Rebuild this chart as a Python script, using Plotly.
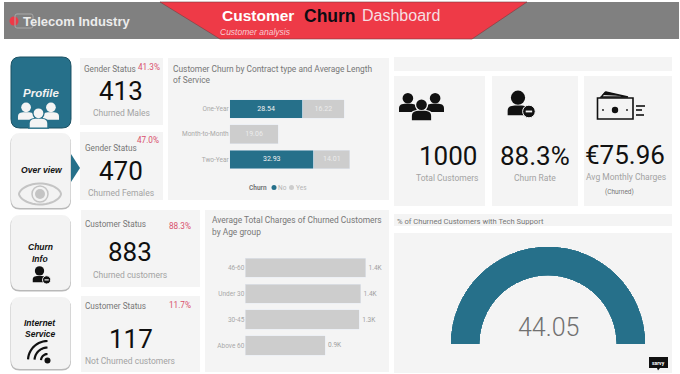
import numpy as np
import plotly.graph_objects as go

W, H = 680, 374

# ---- data ----
contract_types = ["One-Year", "Month-to-Month", "Two-Year"]
tenure_no = [28.54, None, 32.93]
tenure_yes = [16.22, 19.06, 14.01]

age_groups = ["46-60", "Under 30", "30-45", "Above 60"]
avg_charges_k = [1.415, 1.356, 1.341, 0.938]

gauge_value = 44.05

gender_cards = [("Gender Status", "41.3%", "413", "Churned Males"),
                ("Gender Status", "47.0%", "470", "Churned Females")]
status_cards = [("Customer Status", "88.3%", "883", "Churned customers"),
                ("Customer Status", "11.7%", "117", "Not Churned customers")]
headline_values = ["1000", "88.3%", "€75.96"]
headline_labels = ["Total Customers", "Churn Rate", "Avg Monthly Charges"]

# ---- colours ----
TEAL = "#26708a"
PANEL = "#f4f4f4"
BAR_GREY = "#cdcdcd"
RED = "#ee3a47"
SUB = "#a3a3a3"
PINK = "#d9506c"
BIG = "Roboto"

# ---- pixel helpers ----
px = lambda x: x / W
py = lambda y: 1 - y / H
shapes, notes = [], []


def rect(x0, y0, x1, y1, fill):
    shapes.append(dict(type="rect", xref="paper", yref="paper", x0=px(x0), x1=px(x1),
                       y0=py(y0), y1=py(y1), fillcolor=fill, line_width=0, layer="below"))


def path(d, fill=None, line=None, lw=0, layer="below"):
    s = dict(type="path", xref="paper", yref="paper", path=d, layer=layer,
             fillcolor=fill if fill else "rgba(0,0,0,0)",
             line=dict(color=line if line else "rgba(0,0,0,0)", width=lw))
    shapes.append(s)


def pts(points, close=True):
    d = "M " + " L ".join(f"{px(x):.5f} {py(y):.5f}" for x, y in points)
    return d + (" Z" if close else "")


def rrect(x0, y0, x1, y1, r, fill, line=None, lw=0):
    def P(x, y):
        return f"{px(x):.5f} {py(y):.5f}"
    d = (f"M {P(x0+r,y0)} L {P(x1-r,y0)} Q {P(x1,y0)} {P(x1,y0+r)} L {P(x1,y1-r)} "
         f"Q {P(x1,y1)} {P(x1-r,y1)} L {P(x0+r,y1)} Q {P(x0,y1)} {P(x0,y1-r)} "
         f"L {P(x0,y0+r)} Q {P(x0,y0)} {P(x0+r,y0)} Z")
    path(d, fill, line, lw)


def circle(cx, cy, r, fill, line=None, lw=0):
    shapes.append(dict(type="circle", xref="paper", yref="paper",
                       x0=px(cx - r), x1=px(cx + r), y0=py(cy - r), y1=py(cy + r),
                       fillcolor=fill, line=dict(color=line or "rgba(0,0,0,0)", width=lw),
                       layer="below"))


def body(cx, top, w, h, fill):
    def P(x, y):
        return f"{px(x):.5f} {py(y):.5f}"
    l, r, b = cx - w / 2, cx + w / 2, top + h
    d = (f"M {P(l,b)} L {P(l,top+h*0.55)} C {P(l,top)} {P(cx-w*0.25,top)} {P(cx,top)} "
         f"C {P(cx+w*0.25,top)} {P(r,top)} {P(r,top+h*0.55)} L {P(r,b)} Z")
    path(d, fill)


def people(cx, cy, s, fill, back=None):
    for dx in (-s * 0.92, s * 0.92):
        circle(cx + dx, cy - s * 0.42, s * 0.36, fill)
        body(cx + dx, cy - s * 0.05, s * 1.2, s * 0.55, fill)
    if back:
        circle(cx, cy + s * 0.02, s * 0.45, back)
        body(cx, cy + s * 0.37, s * 1.55, s * 0.8, back)
    circle(cx, cy + s * 0.02, s * 0.36, fill)
    body(cx, cy + s * 0.42, s * 1.3, s * 0.65, fill)


def person_minus(cx, cy, s, fill, hole):
    circle(cx, cy - s * 0.55, s * 0.62, fill)
    body(cx, cy + s * 0.12, s * 1.8, s * 0.85, fill)
    bx, by = cx + s * 0.95, cy + s * 0.65
    circle(bx, by, s * 0.55, fill, hole, 1)
    rect(bx - s * 0.28, by - s * 0.08, bx + s * 0.28, by + s * 0.08, hole)


def T(x, y, text, size, color, anchor="center", family="Roboto", weight=None, italic=False):
    f = dict(size=size, color=color, family=family)
    if weight:
        f["weight"] = weight
    if italic:
        f["style"] = "italic"
    notes.append(dict(xref="paper", yref="paper", x=px(x), y=py(y), text=text, showarrow=False,
                      xanchor=anchor, yanchor="middle", font=f, borderpad=0, borderwidth=0))


# ---- header ----
rect(4, 2, 679, 39, "#808080")
path(pts([(160, 2), (527, 2), (472, 39), (220, 39)]), RED, "#7a3a40", 0.6)
circle(14, 21, 4.5, RED)
rrect(15, 14, 33, 28, 2, "rgba(0,0,0,0)", "#a9a9a9", 1)
T(23, 21, "Telecom Industry", 13, "#ececec", "left", "Liberation Sans", 700)
T(222, 16, "Customer", 15.5, "#ffffff", "left", "Liberation Sans", 700)
T(304, 15.5, "Churn", 17.5, "#0c0c12", "left", "Liberation Sans", 700)
T(362, 16, "Dashboard", 16, "#f6dfe2", "left", "Liberation Sans")
T(220, 32, "Customer analysis", 8.5, "#f8ccd2", "left", "Liberation Sans", italic=True)

# ---- nav buttons ----
rrect(11, 57, 71, 128, 9, TEAL, "#1b5163", 1)
T(41, 92.5, "Profile", 11.5, "#f2f2f2", family="Liberation Sans", weight=700, italic=True)
people(38.5, 113, 13.5, "#f4f4f4", TEAL)

for y0, y1 in [(133, 208), (215, 290), (297, 369)]:
    rrect(10.5, y0 + 1.5, 71, y1 + 1.5, 9, "#b9b9b9")
    rrect(11, y0, 70.5, y1, 9, "#f3f3f3")

T(41.5, 170.5, "Over view", 8.6, "#111111", family="Liberation Sans", weight=700, italic=True)
th = np.linspace(0, 2 * np.pi, 40)
path(pts([(40 + 21 * np.cos(t), 194 + 10.5 * np.sin(t) * abs(np.sin(t)) ** 0.2) for t in th]),
     None, "#c4c4c4", 2)
circle(40, 194, 8, "rgba(0,0,0,0)", "#c4c4c4", 1.5)
circle(40, 194, 5, "#c4c4c4")
path(pts([(71, 154), (80, 168), (71, 182)]), TEAL)

T(40, 246.5, "Churn", 8.5, "#111111", family="Liberation Sans", weight=700, italic=True)
T(40, 258.5, "Info", 8.5, "#111111", family="Liberation Sans", weight=700, italic=True)
person_minus(39.5, 275, 7.5, "#111111", "#f3f3f3")

T(40, 322.5, "Internet", 8.5, "#111111", family="Liberation Sans", weight=700, italic=True)
T(40, 334, "Service", 8.5, "#111111", family="Liberation Sans", weight=700, italic=True)
for r, w in [(6.5, 2.2), (13, 2.2), (19.5, 2.2)]:
    arc = [(47.5 + r * np.cos(a), 360.5 + r * np.sin(a)) for a in np.linspace(np.pi * 1.02, np.pi * 1.5, 14)]
    path(pts(arc, close=False), None, "#111111", w)
circle(47.5, 360.5, 3, "#111111")

# ---- KPI cards ----
rect(80, 58, 163, 125, PANEL)
rect(80, 132, 163, 200, PANEL)
rect(81, 210, 200, 287, PANEL)
rect(81, 296, 200, 372, PANEL)
(g1, g2), (s1, s2) = gender_cards, status_cards
for (head, pct, num, lab), (hx, hy, px_, py_, nx, ny, lx, ly) in [
    (g1, (84, 69, 160, 67, 121, 91, 121, 112.5)),
    (g2, (85, 148, 159, 140, 121, 171, 121, 193.5)),
    (s1, (84.5, 224.5, 190.5, 226, 130, 252, 130, 275)),
    (s2, (85, 306, 190.5, 305, 131, 339, 130, 361)),
]:
    T(hx, hy, head, 8.2, "#777777", "left")
    T(px_, py_, pct, 8.2, PINK, "right")
    T(nx, ny, num, 26, "#0f0f0f", family=BIG)
    T(lx, ly, lab, 8.5, SUB)

# ---- chart panels ----
rect(168, 58, 389, 200, PANEL)
T(173, 69, "Customer Churn by Contract type and Average Length", 8.4, "#777777", "left")
T(173, 80.5, "of Service", 8.4, "#777777", "left")
T(249, 188, "<b>Churn</b>", 6.5, "#777777", "left")
circle(274, 187.5, 2.5, TEAL)
T(278, 188, "No", 6.5, "#b5b5b5", "left")
circle(291.5, 187.5, 2.5, BAR_GREY)
T(295.5, 188, "Yes", 6.5, "#b5b5b5", "left")

rect(205, 210, 389, 372, PANEL)
T(212, 220, "Average Total Charges of Churned Customers", 8.4, "#777777", "left")
T(212, 231.5, "by Age group", 8.4, "#777777", "left")

# ---- right column ----
rect(394, 57, 672, 71, PANEL)
rect(394, 76, 485, 206, PANEL)
rect(492, 76, 578, 206, PANEL)
rect(584, 76, 672, 206, PANEL)
rect(394, 214, 672, 226, PANEL)
rect(394, 233, 672, 373, PANEL)

people(421.5, 104.5, 14.8, "#111111", PANEL)
person_minus(518, 104, 11.5, "#111111", PANEL)
# money icon
path(pts([(597.5, 98), (633, 98), (633, 119), (597.5, 119)]), None, "#111111", 1.6)
path(pts([(601, 97), (606, 92), (628, 97)]), None, "#111111", 1.4)
path(pts([(602, 95), (605, 91.5), (623, 96)]), "#111111")
circle(615, 110, 3.2, "#111111")
circle(603, 110, 0.9, "#111111")
circle(627, 110, 0.9, "#111111")
for yy, x1 in [(106, 645), (110, 642), (115, 644)]:
    rect(636, yy - 0.8, x1, yy + 0.8, "#111111")

for x, y, v, lab, lx, ly in zip([448, 535, 625], [156, 156, 155], headline_values, headline_labels,
                                [447, 535, 626], [178, 178, 176.5]):
    T(x, y, v, 26, "#111111", family=BIG)
    T(lx, ly, lab, 8.5, SUB)
T(619, 192, "(Churned)", 6.5, "#777777")
T(397, 221, "% of Churned Customers with Tech Support", 7.6, "#777777", "left")
T(548, 327, f"{gauge_value:.2f}", 25, "#707070", family=BIG, weight=300)

# badge
rect(649, 357, 668, 368, "#111111")
path(pts([(657, 368), (660, 368), (658, 370.5)]), "#111111")
T(658.5, 362.5, "sarvy", 5, "#ffffff", weight=700)

# ---- traces ----
fig = go.Figure()
fig.add_trace(go.Bar(name="No", y=contract_types, x=tenure_no, orientation="h", marker_color=TEAL,
                     text=[None if v is None else f"{v:.2f}" for v in tenure_no],
                     textposition="inside", insidetextanchor="middle", textangle=0,
                     textfont=dict(size=7, color="#f2f2f2", family="Roboto"),
                     xaxis="x", yaxis="y"))
fig.add_trace(go.Bar(name="Yes", y=contract_types, x=tenure_yes, orientation="h", marker_color=BAR_GREY,
                     text=[f"{v:.2f}" for v in tenure_yes],
                     textposition="inside", insidetextanchor="middle", textangle=0,
                     textfont=dict(size=7, color="#ececec", family="Roboto"),
                     xaxis="x", yaxis="y"))
fig.add_trace(go.Bar(y=age_groups, x=avg_charges_k, orientation="h", marker_color=BAR_GREY,
                     texttemplate="%{x:.1f}K", textposition="outside", cliponaxis=False,
                     textfont=dict(size=6.5, color="#a0a0a0", family="Roboto"),
                     xaxis="x2", yaxis="y2", showlegend=False))
fig.add_trace(go.Barpolar(r=[gauge_value], theta=[90], width=[180], marker_color=TEAL,
                          marker_line_width=0, subplot="polar", showlegend=False))

hidden = dict(visible=False, showgrid=False, zeroline=False, fixedrange=True)
cat = dict(showgrid=False, zeroline=False, showline=False, ticks="", autorange=False,
           tickfont=dict(size=6.5, color="#a8a8a8", family="Roboto"), fixedrange=True, ticklen=0)

fig.update_layout(
    width=W, height=H, autosize=False, margin=dict(l=0, r=0, t=0, b=0),
    paper_bgcolor="#ffffff", plot_bgcolor="rgba(0,0,0,0)",
    showlegend=False, barmode="stack", bargap=0.26,
    font=dict(family="Roboto"),
    xaxis=dict(hidden, domain=[px(229.7), px(380)], range=[0, 58.8], anchor="y"),
    yaxis=dict(cat, domain=[py(172), py(96.4)], range=[2.5, -0.5], anchor="x"),
    xaxis2=dict(hidden, domain=[px(245.3), px(385)], range=[0, 1.644], anchor="y2"),
    yaxis2=dict(cat, domain=[py(358.4), py(254.8)], range=[3.5, -0.5], anchor="x2"),
    polar=dict(domain=dict(x=[px(450.5), px(645.5)], y=[py(344), py(246.5)]),
               sector=[0, 180], hole=0.7, bgcolor="rgba(0,0,0,0)",
               radialaxis=dict(visible=False, range=[0, gauge_value]),
               angularaxis=dict(visible=False)),
    shapes=shapes, annotations=notes,
)
fig.write_html("out.html", config=dict(displayModeBar=False),
               post_script="document.body.style.margin='0';document.body.style.overflow='hidden';")
